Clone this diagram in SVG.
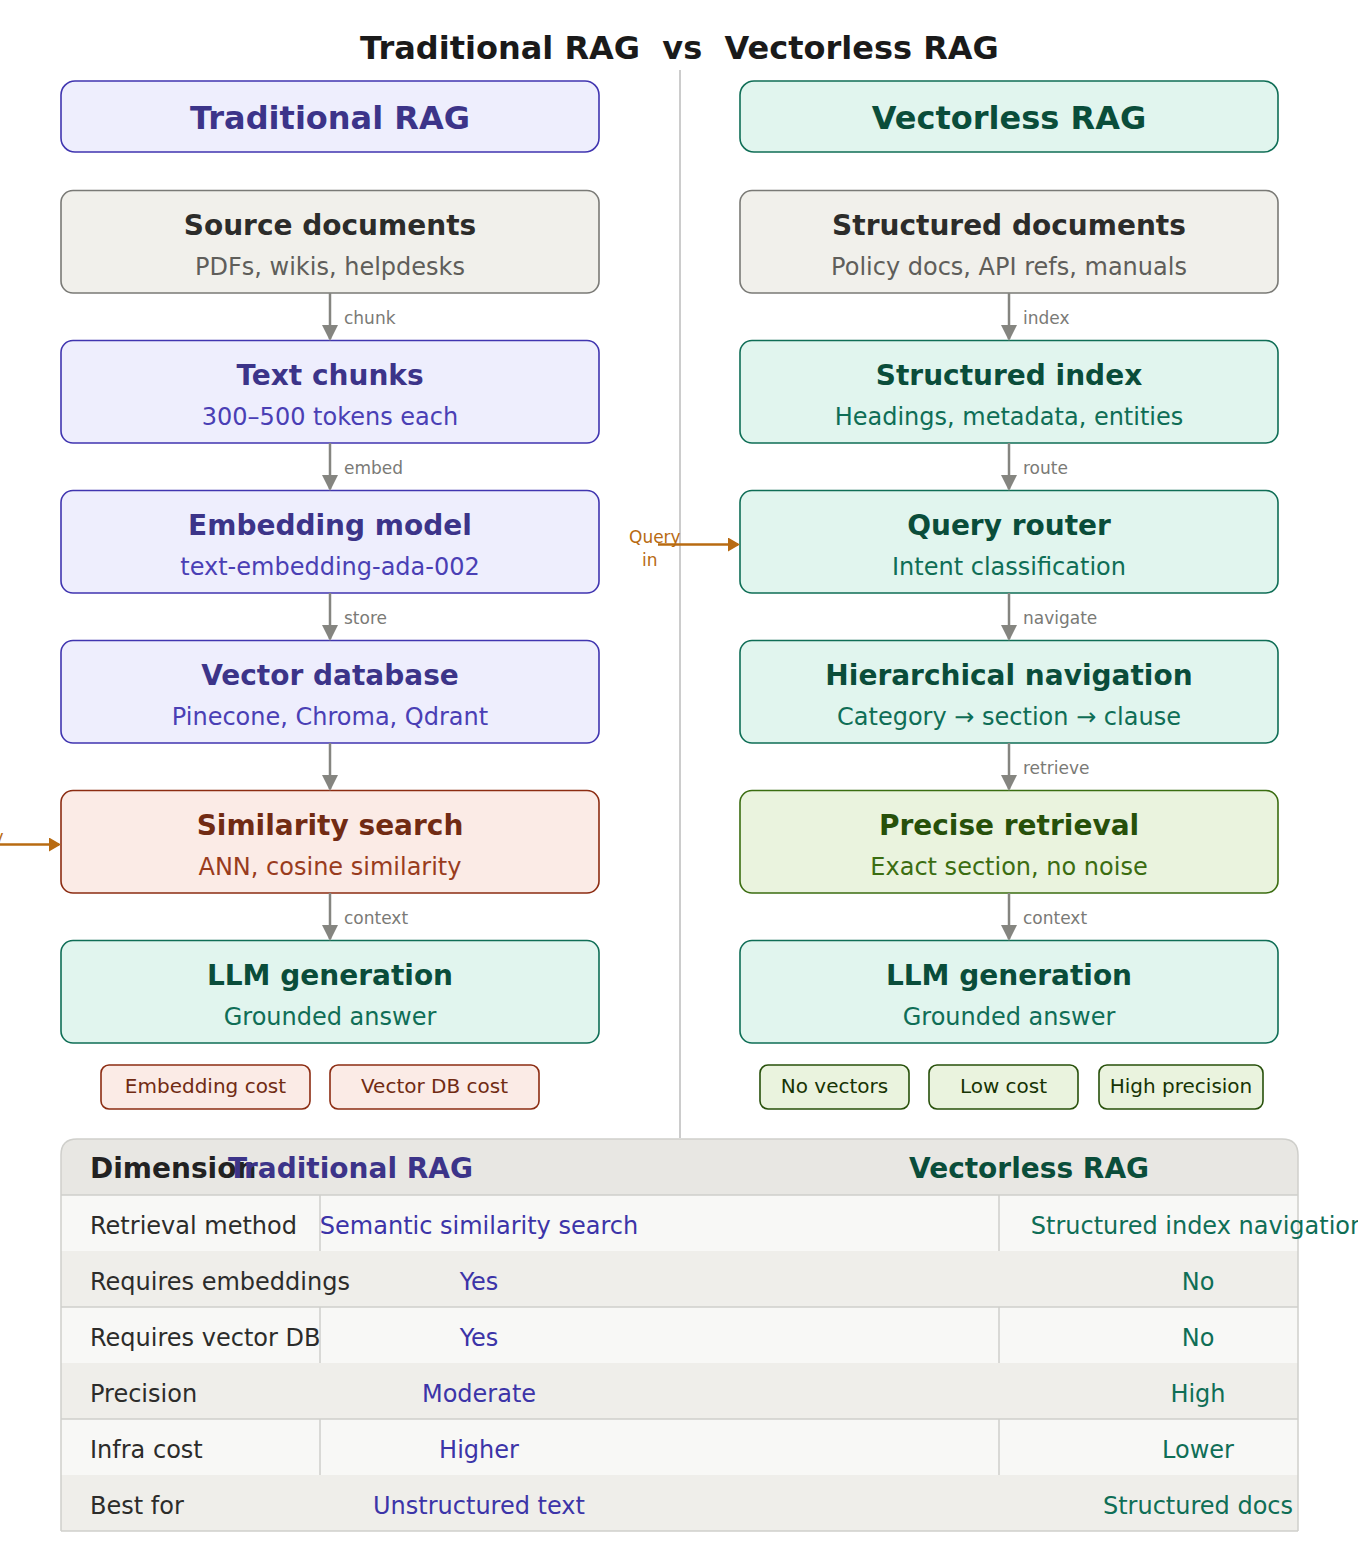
<svg xmlns="http://www.w3.org/2000/svg" width="1358" height="1558" viewBox="0 0 1358 1558">
<style>
text{font-family:"DejaVu Sans","Liberation Sans",sans-serif}
.t{font-size:28px;font-weight:bold;text-anchor:middle}
.s{font-size:24px;text-anchor:middle}
.h{font-size:32px;font-weight:bold;text-anchor:middle}
.lbl{font-size:17px;fill:#7a7a76}
.q{font-size:17px;fill:#b86b12}
.b{font-size:20px;text-anchor:middle}
.conn{stroke:#858580;stroke-width:2.5;fill:none}
.qc{stroke:#b86b12;stroke-width:2.5;fill:none}
.pur rect{fill:#eeeefd;stroke:#4035b0;stroke-width:1.6}
.pur .t{fill:#3c3489}.pur .s{fill:#4a3fb5}
.grn rect{fill:#e1f5ee;stroke:#0f6e56;stroke-width:1.6}
.grn .t{fill:#0a4d3a}.grn .s{fill:#0f6e56}
.gry rect{fill:#f1f0eb;stroke:#7a7a76;stroke-width:1.6}
.gry .t{fill:#2c2c2a}.gry .s{fill:#5f5e5a}
.cor rect{fill:#fbebe6;stroke:#8c2c12;stroke-width:1.6}
.cor .t{fill:#712b13}.cor .s{fill:#993c1d}
.lgr rect{fill:#eaf3de;stroke:#3b6d11;stroke-width:1.6}
.lgr .t{fill:#27500a}.lgr .s{fill:#3b6d11}
.bc rect{fill:#fbebe6;stroke:#8c2c12;stroke-width:1.6}
.bc text{fill:#712b13}
.bg rect{fill:#eaf3de;stroke:#27500a;stroke-width:1.6}
.bg text{fill:#173404}
.c0{font-size:24px;fill:#2c2c2a}
.c1{font-size:24px;fill:#3c34a8;text-anchor:middle}
.c2{font-size:24px;fill:#0f6e56;text-anchor:middle}
.rw{fill:#f8f8f6}.rg{fill:#efeeea}
.ln{stroke:#cfcfcb;stroke-width:1.5}
</style>
<defs>
<marker id="ah" markerUnits="userSpaceOnUse" markerWidth="16" markerHeight="16" refX="14" refY="8" orient="auto" viewBox="0 0 16 16"><path d="M0,0 L16,8 L0,16 z" fill="#858580"/></marker>
<marker id="aq" markerUnits="userSpaceOnUse" markerWidth="12" markerHeight="14" refX="10" refY="7" orient="auto" viewBox="0 0 12 14"><path d="M0,0 L12,7 L0,14 z" fill="#b86b12"/></marker>
</defs>
<rect width="1358" height="1558" fill="#ffffff"/>
<text x="679.5" y="59" class="h" fill="#1a1a1a" xml:space="preserve">Traditional RAG  vs  Vectorless RAG</text>
<line x1="680" y1="70" x2="680" y2="1138" stroke="#cccccc" stroke-width="2"/>

<g id="hdr-left" class="pur"><rect x="61" y="81" width="538" height="71" rx="14"/><text x="330" y="129" class="h" fill="#3c3489">Traditional RAG</text></g>
<g id="hdr-right" class="grn"><rect x="740" y="81" width="538" height="71" rx="14"/><text x="1009" y="129" class="h" fill="#0a4d3a">Vectorless RAG</text></g>

<g id="source-docs" class="gry"><rect x="61" y="190.5" width="538" height="102.5" rx="12"/><text x="330" y="235" class="t">Source documents</text><text x="330" y="275" class="s">PDFs, wikis, helpdesks</text></g>
<g id="text-chunks" class="pur"><rect x="61" y="340.5" width="538" height="102.5" rx="12"/><text x="330" y="385" class="t">Text chunks</text><text x="330" y="425" class="s">300–500 tokens each</text></g>
<g id="embedding-model" class="pur"><rect x="61" y="490.5" width="538" height="102.5" rx="12"/><text x="330" y="535" class="t">Embedding model</text><text x="330" y="575" class="s">text-embedding-ada-002</text></g>
<g id="vector-db" class="pur"><rect x="61" y="640.5" width="538" height="102.5" rx="12"/><text x="330" y="685" class="t">Vector database</text><text x="330" y="725" class="s">Pinecone, Chroma, Qdrant</text></g>
<g id="similarity-search" class="cor"><rect x="61" y="790.5" width="538" height="102.5" rx="12"/><text x="330" y="835" class="t">Similarity search</text><text x="330" y="875" class="s">ANN, cosine similarity</text></g>
<g id="llm-left" class="grn"><rect x="61" y="940.5" width="538" height="102.5" rx="12"/><text x="330" y="985" class="t">LLM generation</text><text x="330" y="1025" class="s">Grounded answer</text></g>

<g id="structured-docs" class="gry"><rect x="740" y="190.5" width="538" height="102.5" rx="12"/><text x="1009" y="235" class="t">Structured documents</text><text x="1009" y="275" class="s">Policy docs, API refs, manuals</text></g>
<g id="structured-index" class="grn"><rect x="740" y="340.5" width="538" height="102.5" rx="12"/><text x="1009" y="385" class="t">Structured index</text><text x="1009" y="425" class="s">Headings, metadata, entities</text></g>
<g id="query-router" class="grn"><rect x="740" y="490.5" width="538" height="102.5" rx="12"/><text x="1009" y="535" class="t">Query router</text><text x="1009" y="575" class="s">Intent classification</text></g>
<g id="hier-nav" class="grn"><rect x="740" y="640.5" width="538" height="102.5" rx="12"/><text x="1009" y="685" class="t">Hierarchical navigation</text><text x="1009" y="725" class="s">Category → section → clause</text></g>
<g id="precise-retrieval" class="lgr"><rect x="740" y="790.5" width="538" height="102.5" rx="12"/><text x="1009" y="835" class="t">Precise retrieval</text><text x="1009" y="875" class="s">Exact section, no noise</text></g>
<g id="llm-right" class="grn"><rect x="740" y="940.5" width="538" height="102.5" rx="12"/><text x="1009" y="985" class="t">LLM generation</text><text x="1009" y="1025" class="s">Grounded answer</text></g>

<g id="badge-embed-cost" class="bc"><rect x="101" y="1065" width="209" height="44" rx="8"/><text x="205.5" y="1093" class="b">Embedding cost</text></g>
<g id="badge-vdb-cost" class="bc"><rect x="330" y="1065" width="209" height="44" rx="8"/><text x="434.5" y="1093" class="b">Vector DB cost</text></g>
<g id="badge-no-vectors" class="bg"><rect x="760" y="1065" width="149" height="44" rx="8"/><text x="834.5" y="1093" class="b">No vectors</text></g>
<g id="badge-low-cost" class="bg"><rect x="929" y="1065" width="149" height="44" rx="8"/><text x="1003.5" y="1093" class="b">Low cost</text></g>
<g id="badge-high-precision" class="bg"><rect x="1099" y="1065" width="164" height="44" rx="8"/><text x="1181" y="1093" class="b">High precision</text></g>

<g id="connectors">
<line class="conn" x1="330" y1="293" x2="330" y2="339" marker-end="url(#ah)"/><text x="344" y="324" class="lbl">chunk</text>
<line class="conn" x1="330" y1="443" x2="330" y2="489" marker-end="url(#ah)"/><text x="344" y="474" class="lbl">embed</text>
<line class="conn" x1="330" y1="593" x2="330" y2="639" marker-end="url(#ah)"/><text x="344" y="624" class="lbl">store</text>
<line class="conn" x1="330" y1="743" x2="330" y2="789" marker-end="url(#ah)"/>
<line class="conn" x1="330" y1="893" x2="330" y2="939" marker-end="url(#ah)"/><text x="344" y="924" class="lbl">context</text>
<line class="conn" x1="1009" y1="293" x2="1009" y2="339" marker-end="url(#ah)"/><text x="1023" y="324" class="lbl">index</text>
<line class="conn" x1="1009" y1="443" x2="1009" y2="489" marker-end="url(#ah)"/><text x="1023" y="474" class="lbl">route</text>
<line class="conn" x1="1009" y1="593" x2="1009" y2="639" marker-end="url(#ah)"/><text x="1023" y="624" class="lbl">navigate</text>
<line class="conn" x1="1009" y1="743" x2="1009" y2="789" marker-end="url(#ah)"/><text x="1023" y="774" class="lbl">retrieve</text>
<line class="conn" x1="1009" y1="893" x2="1009" y2="939" marker-end="url(#ah)"/><text x="1023" y="924" class="lbl">context</text>
<line class="qc" x1="658" y1="544.5" x2="738" y2="544.5" marker-end="url(#aq)"/>
<text x="629" y="543" class="q">Query</text><text x="642" y="566" class="q">in</text>
<line class="qc" x1="-20" y1="844.5" x2="59" y2="844.5" marker-end="url(#aq)"/>
<text x="-48" y="843" class="q">Query</text><text x="-35" y="866" class="q">in</text>
</g>

<g id="table">
<path d="M61,1195 V1155 Q61,1139 77,1139 H1282 Q1298,1139 1298,1155 V1195 Z" fill="#e8e7e3"/>
<rect x="61" y="1195" width="1237" height="56" class="rw"/>
<rect x="61" y="1251" width="1237" height="56" class="rg"/>
<rect x="61" y="1307" width="1237" height="56" class="rw"/>
<rect x="61" y="1363" width="1237" height="56" class="rg"/>
<rect x="61" y="1419" width="1237" height="56" class="rw"/>
<rect x="61" y="1475" width="1237" height="56" class="rg"/>
<path d="M61,1531 V1155 Q61,1139 77,1139 H1282 Q1298,1139 1298,1155 V1531" fill="none" stroke="#cfcfcb" stroke-width="1.5"/>
<line class="ln" x1="61" y1="1195" x2="1298" y2="1195"/>
<line class="ln" x1="61" y1="1307" x2="1298" y2="1307"/>
<line class="ln" x1="61" y1="1419" x2="1298" y2="1419"/>
<line class="ln" x1="61" y1="1531" x2="1298" y2="1531"/>
<line class="ln" x1="320" y1="1195" x2="320" y2="1251"/><line class="ln" x1="999" y1="1195" x2="999" y2="1251"/>
<line class="ln" x1="320" y1="1307" x2="320" y2="1363"/><line class="ln" x1="999" y1="1307" x2="999" y2="1363"/>
<line class="ln" x1="320" y1="1419" x2="320" y2="1475"/><line class="ln" x1="999" y1="1419" x2="999" y2="1475"/>
<text x="90" y="1178" font-size="28" font-weight="bold" fill="#222222">Dimension</text>
<text x="228" y="1178" font-size="28" font-weight="bold" fill="#3c3489">Traditional RAG</text>
<text x="909" y="1178" font-size="28" font-weight="bold" fill="#0a4d3a">Vectorless RAG</text>
<text x="90" y="1234" class="c0">Retrieval method</text><text x="479" y="1234" class="c1">Semantic similarity search</text><text x="1198" y="1234" class="c2">Structured index navigation</text>
<text x="90" y="1290" class="c0">Requires embeddings</text><text x="479" y="1290" class="c1">Yes</text><text x="1198" y="1290" class="c2">No</text>
<text x="90" y="1346" class="c0">Requires vector DB</text><text x="479" y="1346" class="c1">Yes</text><text x="1198" y="1346" class="c2">No</text>
<text x="90" y="1402" class="c0">Precision</text><text x="479" y="1402" class="c1">Moderate</text><text x="1198" y="1402" class="c2">High</text>
<text x="90" y="1458" class="c0">Infra cost</text><text x="479" y="1458" class="c1">Higher</text><text x="1198" y="1458" class="c2">Lower</text>
<text x="90" y="1514" class="c0">Best for</text><text x="479" y="1514" class="c1">Unstructured text</text><text x="1198" y="1514" class="c2">Structured docs</text>
</g>
</svg>
